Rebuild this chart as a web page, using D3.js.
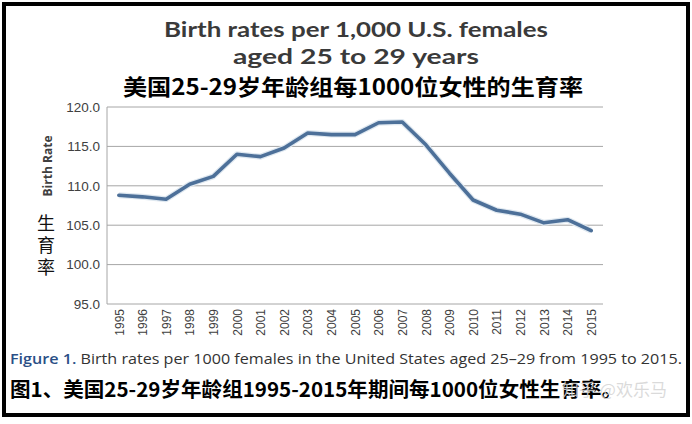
<!DOCTYPE html>
<html><head><meta charset="utf-8">
<script src="https://cdn.jsdelivr.net/npm/d3@7"></script>
<style>html,body{margin:0;padding:0;background:#fff;}svg{display:block;}</style>
</head><body>
<svg id="chart" width="692" height="424"></svg>
<script>
const years = ["1995","1996","1997","1998","1999","2000","2001","2002","2003","2004","2005","2006","2007","2008","2009","2010","2011","2012","2013","2014","2015"];
const birthRates = [108.8,108.6,108.3,110.2,111.2,114.0,113.7,114.8,116.7,116.5,116.5,118.0,118.1,115.2,111.6,108.2,106.9,106.4,105.3,105.7,104.3];
const yTicks = [95,100,105,110,115,120];
const titleLines = ["Birth rates per 1,000 U.S. females","aged 25 to 29 years"];
const titleZh = "美国25-29岁年龄组每1000位女性的生育率";
const captionLabel = "Figure 1.";
const captionText = " Birth rates per 1000 females in the United States aged 25–29 from 1995 to 2015.";
const captionZh = "图1、美国25-29岁年龄组1995-2015年期间每1000位女性生育率。";
const yLabelEn = "Birth Rate";
const yLabelZh = "生育率";
const watermark = "知乎 @欢乐马";

const svg = d3.select("#chart");
const m = {left:107, right:89};
const W = 692;
const x = d3.scalePoint().domain(years).range([m.left, W-m.right]).padding(0.5);
const y = d3.scaleLinear().domain([95,120]).range([304, 107]);

svg.append("rect").attr("x",4).attr("y",4).attr("width",684).attr("height",411)
  .attr("fill","#fff").attr("stroke","#000").attr("stroke-width",4);

// titles
const title = svg.append("text").attr("text-anchor","middle")
  .attr("font-family","Lato, sans-serif").attr("font-weight",700)
  .attr("font-size",21.5).attr("fill","#3a3a3a");
title.selectAll("tspan").data(titleLines).join("tspan")
  .attr("x",356).attr("y",(d,i)=>37+i*26.5).text(d=>d)
  .attr("textLength",(d,i)=>i===0?384:246).attr("lengthAdjust","spacingAndGlyphs");
svg.append("text").attr("x",353).attr("y",95).attr("text-anchor","middle")
  .attr("font-family","Noto Sans CJK SC").attr("font-weight",700).attr("font-size",22)
  .attr("fill","#000").attr("textLength",460).attr("lengthAdjust","spacingAndGlyphs").text(titleZh);

// grid
svg.append("g").selectAll("line").data(yTicks).join("line")
  .attr("x1",m.left).attr("x2",603).attr("y1",d=>y(d)).attr("y2",d=>y(d))
  .attr("stroke","#a6a6a6").attr("stroke-width",1);
svg.append("line").attr("x1",m.left).attr("x2",m.left).attr("y1",y(120)).attr("y2",y(95))
  .attr("stroke","#a6a6a6");

// y axis
const yAxis = d3.axisLeft(y).tickValues(yTicks).tickFormat(d3.format(".1f")).tickSize(0).tickPadding(7);
const gy = svg.append("g").attr("transform",`translate(${m.left},0)`).call(yAxis);
gy.select(".domain").remove();
gy.selectAll("text").attr("font-family","Liberation Sans, Arial, sans-serif").attr("font-size",13.5).attr("fill","#404040");

// x axis
const xAxis = d3.axisBottom(x).tickSize(0).tickPadding(0);
const gx = svg.append("g").attr("transform",`translate(0,304)`).call(xAxis);
gx.select(".domain").remove();
gx.selectAll("text").attr("font-family","Liberation Sans, Arial, sans-serif").attr("font-size",12).attr("fill","#404040")
  .attr("transform","rotate(-90)").attr("text-anchor","end").attr("dy","0.35em").attr("x",-5).attr("y",0);

// line
const line = d3.line().x((d,i)=>x(years[i])).y(d=>y(d));
svg.append("path").datum(birthRates).attr("d",line).attr("fill","none")
  .attr("stroke","#dfe8f0").attr("stroke-width",6).attr("stroke-linejoin","round");
svg.append("path").datum(birthRates).attr("d",line).attr("fill","none")
  .attr("stroke","#4d7099").attr("stroke-width",3.6).attr("stroke-linejoin","round").attr("stroke-linecap","round");

// y labels
svg.append("text").attr("transform","translate(52,166) rotate(-90)").attr("text-anchor","middle")
  .attr("font-family","Open Sans, sans-serif").attr("font-weight",700).attr("font-size",11.5)
  .attr("fill","#404040").attr("textLength",61).attr("lengthAdjust","spacingAndGlyphs").text(yLabelEn);
svg.append("text").attr("x",46).attr("y",214)
  .attr("writing-mode","vertical-rl").attr("letter-spacing",4)
  .attr("font-family","Noto Sans CJK SC").attr("font-weight",400).attr("font-size",18)
  .attr("fill","#111").text(yLabelZh);

// captions
const cap = svg.append("text").attr("x",10).attr("y",364)
  .attr("font-family","Open Sans, sans-serif").attr("font-size",15).attr("fill","#333")
  .attr("textLength",672).attr("lengthAdjust","spacingAndGlyphs");
cap.append("tspan").attr("fill","#2a4f86").attr("font-weight",600).text(captionLabel);
cap.append("tspan").text(captionText);
svg.append("text").attr("x",10).attr("y",397)
  .attr("font-family","Noto Sans CJK SC").attr("font-weight",700).attr("font-size",20)
  .attr("fill","#000").attr("textLength",612).attr("lengthAdjust","spacingAndGlyphs").text(captionZh);
svg.append("text").attr("x",562).attr("y",396)
  .attr("font-family","Noto Sans CJK SC").attr("font-size",17).attr("fill","#d4d4d4").attr("fill-opacity",0.85)
  .text(watermark);
</script>
</body></html>
